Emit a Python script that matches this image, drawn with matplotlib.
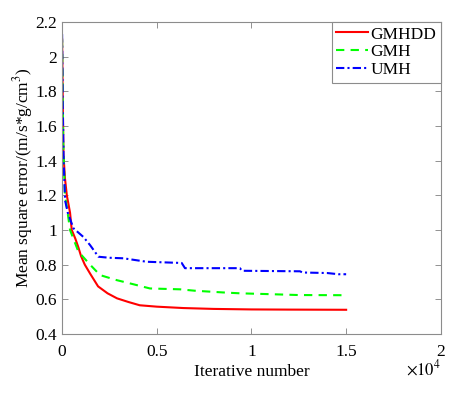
import matplotlib
matplotlib.use('Agg')
import numpy as np
import matplotlib.pyplot as plt
from matplotlib.ticker import FuncFormatter

# curves (iterations, mean square error)
gmhdd_x = [0, 30, 70, 150, 250, 420, 510, 700, 860, 1000, 1200, 1500, 1900, 2400,
           2900, 3500, 4100, 5000, 6400, 8000, 10000, 12000, 15000]
gmhdd_y = [2.10, 1.80, 1.44, 1.30, 1.20, 1.10, 1.00, 0.95, 0.90, 0.85, 0.80, 0.745,
           0.675, 0.635, 0.606, 0.585, 0.566, 0.558, 0.550, 0.545, 0.542, 0.541, 0.540]

gmh_x = [0, 60, 150, 250, 420, 862, 1480, 2005, 2885, 3590, 4640, 6230, 7000, 8500,
         9390, 11000, 12500, 15000]
gmh_y = [2.10, 1.50, 1.20, 1.134, 1.00, 0.875, 0.80, 0.74, 0.711, 0.692, 0.663, 0.658,
         0.65, 0.64, 0.635, 0.63, 0.625, 0.624]

umh_x = [0, 30, 80, 160, 300, 600, 1125, 1478, 1918, 2500, 3235, 4470, 6316, 6490,
         9390, 9500, 12560, 12700, 14000, 14600, 15000]
umh_y = [2.13, 1.75, 1.40, 1.17, 1.10, 1.01, 0.96, 0.913, 0.846, 0.84, 0.837, 0.817,
         0.81, 0.78, 0.78, 0.765, 0.762, 0.755, 0.752, 0.745, 0.745]

plt.rcParams['font.family'] = ['Liberation Serif', 'DejaVu Serif']
plt.rcParams['mathtext.fontset'] = 'stix'

fig = plt.figure(figsize=(4.74, 3.93), dpi=100)
ax = fig.add_axes([0.131, 0.150, 0.799, 0.794])

ax.plot(np.array(gmhdd_x) / 1e4, gmhdd_y, color='#ff0000', lw=1.5, label='GMHDD')
ax.plot(np.array(gmh_x) / 1e4, gmh_y, color='#00ff00', lw=1.5, ls=(0, (4, 3)), label='GMH')
ax.plot(np.array(umh_x) / 1e4, umh_y, color='#0000ff', lw=1.5, ls=(0, (4, 1.5, 1, 1.5)), label='UMH')

ax.set_xlim(0, 2)
ax.set_ylim(0.4, 2.2)
ax.set_xticks([0, 0.5, 1, 1.5, 2])
ax.set_yticks(np.arange(0.4, 2.21, 0.2))
fmt = FuncFormatter(lambda v, p: '%g' % round(v, 2))
ax.xaxis.set_major_formatter(fmt)
ax.yaxis.set_major_formatter(fmt)
ax.tick_params(direction='in', top=True, right=True, labelsize=12.5, length=4,
               color='#808080', width=0.6)
ax.tick_params(axis='x', pad=7)
for s in ax.spines.values():
    s.set_color('#8c8c8c')
    s.set_linewidth(0.8)

ax.set_xlabel('Iterative number', fontsize=12.5, labelpad=3)
ax.set_ylabel('Mean square error/(m/s*g/cm$^3$)', fontsize=12.5, labelpad=0.5)
fig.text(0.93, 0.035, r'$\times 10^4$', ha='right', va='bottom', fontsize=12)

leg = ax.legend(loc='upper right', borderaxespad=0, fontsize=12.5, fancybox=False,
                handlelength=1.85, handletextpad=0.15, labelspacing=0.1,
                borderpad=0.25, framealpha=1)
leg.get_frame().set_edgecolor('#8c8c8c')
leg.get_frame().set_linewidth(0.8)

fig.savefig('out.png', dpi=100)
